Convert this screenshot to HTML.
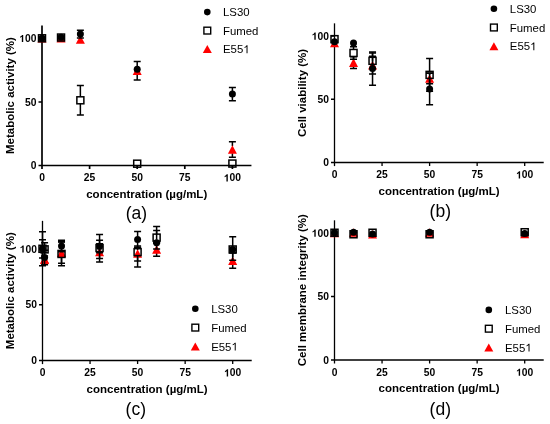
<!DOCTYPE html><html><head><meta charset="utf-8"><style>html,body{margin:0;padding:0;background:#fff;width:550px;height:424px;overflow:hidden}svg{display:block;will-change:transform}</style></head><body>
<svg width="550" height="424" viewBox="0 0 550 424">
<rect width="550" height="424" fill="#fff"/>
<path d="M42.00 25.57V169.10" stroke="#000" stroke-width="1.7" fill="none"/>
<path d="M38.50 165.60H251.44" stroke="#000" stroke-width="1.5" fill="none"/>
<path d="M38.50 101.95H42.00M38.50 38.30H42.00" stroke="#000" stroke-width="1.5" fill="none"/>
<path d="M89.60 165.60V169.10M137.20 165.60V169.10M184.80 165.60V169.10M232.40 165.60V169.10" stroke="#000" stroke-width="1.7" fill="none"/>
<g font-family='"Liberation Sans", sans-serif' font-weight="bold" font-size="10.3">
<text x="36.40" y="169.31" text-anchor="end" >0</text>
<text x="36.40" y="105.66" text-anchor="end" >50</text>
<text x="36.40" y="42.01" text-anchor="end" > 00</text>
<path transform="matrix(0.00503 0 0 -0.00503 19.21 42.01)" d="M795 0L520 0L520 1036Q369 895 164 827L164 1076Q272 1111 398 1209Q524 1307 571 1409L795 1409Z"/>
<text x="42.00" y="181.40" text-anchor="middle" >0</text>
<text x="89.60" y="181.40" text-anchor="middle" >25</text>
<text x="137.20" y="181.40" text-anchor="middle" >50</text>
<text x="184.80" y="181.40" text-anchor="middle" >75</text>
<text x="232.40" y="181.40" text-anchor="middle" > 00</text>
<path transform="matrix(0.00503 0 0 -0.00503 223.81 181.40)" d="M795 0L520 0L520 1036Q369 895 164 827L164 1076Q272 1111 398 1209Q524 1307 571 1409L795 1409Z"/>
</g>
<text x="146.72" y="197.50" text-anchor="middle" font-family='"Liberation Sans", sans-serif' font-weight="bold" font-size="11.5">concentration (µg/mL)</text>
<text transform="translate(14.30 95.58) rotate(-90)" text-anchor="middle" font-family='"Liberation Sans", sans-serif' font-weight="bold" font-size="11.5">Metabolic activity (%)</text>
<text x="136.50" y="218.80" text-anchor="middle" font-family='"Liberation Sans", sans-serif' font-size="17.5">(a)</text>
<circle cx="207.30" cy="12.10" r="3.3" fill="#000"/>
<rect x="203.90" y="27.20" width="6.8" height="6.8" fill="none" stroke="#000" stroke-width="1.4"/>
<path d="M207.30 45.10L211.80 53.10L202.80 53.10Z" fill="#ff0000"/>
<g font-family='"Liberation Sans", sans-serif' font-size="11.4">
<text x="223.00" y="16.20">LS30</text>
<text x="223.00" y="34.70">Fumed</text>
<text x="223.00" y="53.20" text-anchor="start" >E55 </text>
<path transform="matrix(0.00557 0 0 -0.00557 243.28 53.20)" d="M763 0L583 0L583 1147Q521 1088 421 1029Q321 970 223 934L223 1108Q363 1174 468 1268Q573 1362 617 1409L763 1409Z"/>
</g>
<path d="M42.00 34.00L46.50 42.60L37.50 42.60Z" fill="#ff0000"/>
<path d="M61.04 34.00L65.54 42.60L56.54 42.60Z" fill="#ff0000"/>
<path d="M80.37 35.27L84.87 43.87L75.87 43.87Z" fill="#ff0000"/>
<path d="M137.20 67.16V61.47M133.70 61.47H140.70M137.20 74.36V80.05M133.70 80.05H140.70" stroke="#000" stroke-width="1.5" fill="none"/>
<path d="M137.20 66.46L141.70 75.06L132.70 75.06Z" fill="#ff0000"/>
<path d="M232.40 145.96V141.79M228.90 141.79H235.90M232.40 153.16V157.33M228.90 157.33H235.90" stroke="#000" stroke-width="1.5" fill="none"/>
<path d="M232.40 145.26L236.90 153.86L227.90 153.86Z" fill="#ff0000"/>
<rect x="38.50" y="34.80" width="7.0" height="7.0" fill="none" stroke="#000" stroke-width="1.5"/>
<rect x="57.54" y="34.04" width="7.0" height="7.0" fill="none" stroke="#000" stroke-width="1.5"/>
<path d="M80.37 96.80V85.53M76.87 85.53H83.87M80.37 103.80V115.06M76.87 115.06H83.87" stroke="#000" stroke-width="1.5" fill="none"/>
<rect x="76.87" y="96.80" width="7.0" height="7.0" fill="none" stroke="#000" stroke-width="1.5"/>
<rect x="133.70" y="160.19" width="7.0" height="7.0" fill="none" stroke="#000" stroke-width="1.5"/>
<rect x="228.90" y="160.06" width="7.0" height="7.0" fill="none" stroke="#000" stroke-width="1.5"/>
<circle cx="42.00" cy="38.30" r="3.5" fill="#000"/>
<circle cx="61.04" cy="37.28" r="3.5" fill="#000"/>
<path d="M80.37 31.10V30.15M76.87 30.15H83.87M80.37 37.10V38.05M76.87 38.05H83.87" stroke="#000" stroke-width="1.5" fill="none"/>
<circle cx="80.37" cy="34.10" r="3.5" fill="#000"/>
<circle cx="137.20" cy="69.23" r="3.5" fill="#000"/>
<path d="M232.40 91.06V87.44M228.90 87.44H235.90M232.40 97.06V100.68M228.90 100.68H235.90" stroke="#000" stroke-width="1.5" fill="none"/>
<circle cx="232.40" cy="94.06" r="3.5" fill="#000"/>
<path d="M334.50 23.34V166.10" stroke="#000" stroke-width="1.3" fill="none"/>
<path d="M331.00 162.60H543.72" stroke="#000" stroke-width="1.5" fill="none"/>
<path d="M331.00 99.30H334.50M331.00 36.00H334.50" stroke="#000" stroke-width="1.5" fill="none"/>
<path d="M382.05 162.60V166.10M429.60 162.60V166.10M477.15 162.60V166.10M524.70 162.60V166.10" stroke="#000" stroke-width="1.3" fill="none"/>
<g font-family='"Liberation Sans", sans-serif' font-weight="bold" font-size="10.3">
<text x="328.90" y="166.31" text-anchor="end" >0</text>
<text x="328.90" y="103.01" text-anchor="end" >50</text>
<text x="328.90" y="39.71" text-anchor="end" > 00</text>
<path transform="matrix(0.00503 0 0 -0.00503 311.71 39.71)" d="M795 0L520 0L520 1036Q369 895 164 827L164 1076Q272 1111 398 1209Q524 1307 571 1409L795 1409Z"/>
<text x="334.50" y="178.40" text-anchor="middle" >0</text>
<text x="382.05" y="178.40" text-anchor="middle" >25</text>
<text x="429.60" y="178.40" text-anchor="middle" >50</text>
<text x="477.15" y="178.40" text-anchor="middle" >75</text>
<text x="524.70" y="178.40" text-anchor="middle" > 00</text>
<path transform="matrix(0.00503 0 0 -0.00503 516.11 178.40)" d="M795 0L520 0L520 1036Q369 895 164 827L164 1076Q272 1111 398 1209Q524 1307 571 1409L795 1409Z"/>
</g>
<text x="439.11" y="194.50" text-anchor="middle" font-family='"Liberation Sans", sans-serif' font-weight="bold" font-size="11.5">concentration (µg/mL)</text>
<text transform="translate(306.00 92.97) rotate(-90)" text-anchor="middle" font-family='"Liberation Sans", sans-serif' font-weight="bold" font-size="11.5">Cell viability (%)</text>
<text x="440.30" y="217.00" text-anchor="middle" font-family='"Liberation Sans", sans-serif' font-size="17.5">(b)</text>
<circle cx="493.90" cy="8.80" r="3.3" fill="#000"/>
<rect x="490.50" y="24.10" width="6.8" height="6.8" fill="none" stroke="#000" stroke-width="1.4"/>
<path d="M493.90 42.20L498.40 50.20L489.40 50.20Z" fill="#ff0000"/>
<g font-family='"Liberation Sans", sans-serif' font-size="11.4">
<text x="509.80" y="12.90">LS30</text>
<text x="509.80" y="31.60">Fumed</text>
<text x="509.80" y="50.30" text-anchor="start" >E55 </text>
<path transform="matrix(0.00557 0 0 -0.00557 530.08 50.30)" d="M763 0L583 0L583 1147Q521 1088 421 1029Q321 970 223 934L223 1108Q363 1174 468 1268Q573 1362 617 1409L763 1409Z"/>
</g>
<path d="M334.50 38.66L339.00 47.26L330.00 47.26Z" fill="#ff0000"/>
<path d="M353.52 58.99V56.64M350.02 56.64H357.02M353.52 66.19V68.54M350.02 68.54H357.02" stroke="#000" stroke-width="1.5" fill="none"/>
<path d="M353.52 58.29L358.02 66.89L349.02 66.89Z" fill="#ff0000"/>
<path d="M372.54 61.52V56.26M369.04 56.26H376.04M372.54 68.72V73.98M369.04 73.98H376.04" stroke="#000" stroke-width="1.5" fill="none"/>
<path d="M372.54 60.82L377.04 69.42L368.04 69.42Z" fill="#ff0000"/>
<path d="M429.60 74.94V73.22M426.10 73.22H433.10M429.60 82.14V83.85M426.10 83.85H433.10" stroke="#000" stroke-width="1.5" fill="none"/>
<path d="M429.60 74.24L434.10 82.84L425.10 82.84Z" fill="#ff0000"/>
<rect x="331.00" y="35.66" width="7.0" height="7.0" fill="none" stroke="#000" stroke-width="1.5"/>
<path d="M353.52 49.46V46.63M350.02 46.63H357.02M353.52 56.46V59.29M350.02 59.29H357.02" stroke="#000" stroke-width="1.5" fill="none"/>
<rect x="350.02" y="49.46" width="7.0" height="7.0" fill="none" stroke="#000" stroke-width="1.5"/>
<path d="M372.54 57.31V53.09M369.04 53.09H376.04M372.54 64.31V68.54M369.04 68.54H376.04" stroke="#000" stroke-width="1.5" fill="none"/>
<rect x="369.04" y="57.31" width="7.0" height="7.0" fill="none" stroke="#000" stroke-width="1.5"/>
<path d="M429.60 71.37V58.53M426.10 58.53H433.10M429.60 78.37V91.20M426.10 91.20H433.10" stroke="#000" stroke-width="1.5" fill="none"/>
<rect x="426.10" y="71.37" width="7.0" height="7.0" fill="none" stroke="#000" stroke-width="1.5"/>
<circle cx="334.50" cy="41.70" r="3.5" fill="#000"/>
<circle cx="353.52" cy="42.96" r="3.5" fill="#000"/>
<path d="M372.54 65.41V52.08M369.04 52.08H376.04M372.54 71.41V85.37M369.04 85.37H376.04" stroke="#000" stroke-width="1.5" fill="none"/>
<circle cx="372.54" cy="68.41" r="3.5" fill="#000"/>
<path d="M429.60 85.92V73.09M426.10 73.09H433.10M429.60 91.92V104.74M426.10 104.74H433.10" stroke="#000" stroke-width="1.5" fill="none"/>
<circle cx="429.60" cy="88.92" r="3.5" fill="#000"/>
<path d="M42.50 220.85V364.10" stroke="#000" stroke-width="1.3" fill="none"/>
<path d="M39.00 360.60H251.72" stroke="#000" stroke-width="1.5" fill="none"/>
<path d="M39.00 304.70H42.50M39.00 248.80H42.50" stroke="#000" stroke-width="1.5" fill="none"/>
<path d="M90.05 360.60V364.10M137.60 360.60V364.10M185.15 360.60V364.10M232.70 360.60V364.10" stroke="#000" stroke-width="1.3" fill="none"/>
<g font-family='"Liberation Sans", sans-serif' font-weight="bold" font-size="10.3">
<text x="36.90" y="364.31" text-anchor="end" >0</text>
<text x="36.90" y="308.41" text-anchor="end" >50</text>
<text x="36.90" y="252.51" text-anchor="end" > 00</text>
<path transform="matrix(0.00503 0 0 -0.00503 19.71 252.51)" d="M795 0L520 0L520 1036Q369 895 164 827L164 1076Q272 1111 398 1209Q524 1307 571 1409L795 1409Z"/>
<text x="42.50" y="376.40" text-anchor="middle" >0</text>
<text x="90.05" y="376.40" text-anchor="middle" >25</text>
<text x="137.60" y="376.40" text-anchor="middle" >50</text>
<text x="185.15" y="376.40" text-anchor="middle" >75</text>
<text x="232.70" y="376.40" text-anchor="middle" > 00</text>
<path transform="matrix(0.00503 0 0 -0.00503 224.11 376.40)" d="M795 0L520 0L520 1036Q369 895 164 827L164 1076Q272 1111 398 1209Q524 1307 571 1409L795 1409Z"/>
</g>
<text x="147.11" y="392.50" text-anchor="middle" font-family='"Liberation Sans", sans-serif' font-weight="bold" font-size="11.5">concentration (µg/mL)</text>
<text transform="translate(14.30 290.73) rotate(-90)" text-anchor="middle" font-family='"Liberation Sans", sans-serif' font-weight="bold" font-size="11.5">Metabolic activity (%)</text>
<text x="135.80" y="415.00" text-anchor="middle" font-family='"Liberation Sans", sans-serif' font-size="17.5">(c)</text>
<circle cx="195.30" cy="308.80" r="3.3" fill="#000"/>
<rect x="191.90" y="324.20" width="6.8" height="6.8" fill="none" stroke="#000" stroke-width="1.4"/>
<path d="M195.30 342.40L199.80 350.40L190.80 350.40Z" fill="#ff0000"/>
<g font-family='"Liberation Sans", sans-serif' font-size="11.4">
<text x="211.20" y="312.90">LS30</text>
<text x="211.20" y="331.70">Fumed</text>
<text x="211.20" y="350.50" text-anchor="start" >E55 </text>
<path transform="matrix(0.00557 0 0 -0.00557 231.48 350.50)" d="M763 0L583 0L583 1147Q521 1088 421 1029Q321 970 223 934L223 1108Q363 1174 468 1268Q573 1362 617 1409L763 1409Z"/>
</g>
<path d="M44.59 255.23L49.09 263.83L40.09 263.83Z" fill="#ff0000"/>
<path d="M44.59 255.23L49.09 263.83L40.09 263.83Z" fill="#ff0000"/>
<path d="M61.52 249.11V242.09M58.02 242.09H65.02M61.52 256.31V263.33M58.02 263.33H65.02" stroke="#000" stroke-width="1.5" fill="none"/>
<path d="M61.52 248.41L66.02 257.01L57.02 257.01Z" fill="#ff0000"/>
<path d="M99.56 248.44V243.66M96.06 243.66H103.06M99.56 255.64V262.10M96.06 262.10H103.06" stroke="#000" stroke-width="1.5" fill="none"/>
<path d="M99.56 247.74L104.06 256.34L95.06 256.34Z" fill="#ff0000"/>
<path d="M137.60 249.90V246.00M134.10 246.00H141.10M137.60 257.10V260.99M134.10 260.99H141.10" stroke="#000" stroke-width="1.5" fill="none"/>
<path d="M137.60 249.20L142.10 257.80L133.10 257.80Z" fill="#ff0000"/>
<path d="M156.62 245.76V242.43M153.12 242.43H160.12M156.62 252.96V256.29M153.12 256.29H160.12" stroke="#000" stroke-width="1.5" fill="none"/>
<path d="M156.62 245.06L161.12 253.66L152.12 253.66Z" fill="#ff0000"/>
<path d="M232.70 257.05V253.05M229.20 253.05H236.20M232.70 264.25V268.25M229.20 268.25H236.20" stroke="#000" stroke-width="1.5" fill="none"/>
<path d="M232.70 256.35L237.20 264.95L228.20 264.95Z" fill="#ff0000"/>
<path d="M42.50 245.30V231.81M39.00 231.81H46.00M42.50 252.30V265.79M39.00 265.79H46.00" stroke="#000" stroke-width="1.5" fill="none"/>
<rect x="39.00" y="245.30" width="7.0" height="7.0" fill="none" stroke="#000" stroke-width="1.5"/>
<path d="M44.59 245.86V242.65M41.09 242.65H48.09M44.59 252.86V256.07M41.09 256.07H48.09" stroke="#000" stroke-width="1.5" fill="none"/>
<rect x="41.09" y="245.86" width="7.0" height="7.0" fill="none" stroke="#000" stroke-width="1.5"/>
<path d="M61.52 250.44V241.76M58.02 241.76H65.02M61.52 257.44V265.68M58.02 265.68H65.02" stroke="#000" stroke-width="1.5" fill="none"/>
<rect x="58.02" y="250.44" width="7.0" height="7.0" fill="none" stroke="#000" stroke-width="1.5"/>
<path d="M99.56 244.52V234.49M96.06 234.49H103.06M99.56 251.52V258.41M96.06 258.41H103.06" stroke="#000" stroke-width="1.5" fill="none"/>
<rect x="96.06" y="244.52" width="7.0" height="7.0" fill="none" stroke="#000" stroke-width="1.5"/>
<path d="M137.60 248.65V247.68M134.10 247.68H141.10M137.60 255.65V266.91M134.10 266.91H141.10" stroke="#000" stroke-width="1.5" fill="none"/>
<rect x="134.10" y="248.65" width="7.0" height="7.0" fill="none" stroke="#000" stroke-width="1.5"/>
<path d="M156.62 234.12V226.44M153.12 226.44H160.12M156.62 241.12V243.21M153.12 243.21H160.12" stroke="#000" stroke-width="1.5" fill="none"/>
<rect x="153.12" y="234.12" width="7.0" height="7.0" fill="none" stroke="#000" stroke-width="1.5"/>
<path d="M232.70 245.97V236.84M229.20 236.84H236.20M232.70 252.97V260.20M229.20 260.20H236.20" stroke="#000" stroke-width="1.5" fill="none"/>
<rect x="229.20" y="245.97" width="7.0" height="7.0" fill="none" stroke="#000" stroke-width="1.5"/>
<path d="M42.50 245.80V239.63M39.00 239.63H46.00M42.50 251.80V257.97M39.00 257.97H46.00" stroke="#000" stroke-width="1.5" fill="none"/>
<circle cx="42.50" cy="248.80" r="3.5" fill="#000"/>
<path d="M44.59 254.52V250.25M41.09 250.25H48.09M44.59 260.52V264.79M41.09 264.79H48.09" stroke="#000" stroke-width="1.5" fill="none"/>
<circle cx="44.59" cy="257.52" r="3.5" fill="#000"/>
<path d="M61.52 243.00V240.30M58.02 240.30H65.02M61.52 249.00V251.71M58.02 251.71H65.02" stroke="#000" stroke-width="1.5" fill="none"/>
<circle cx="61.52" cy="246.00" r="3.5" fill="#000"/>
<path d="M99.56 243.56V240.30M96.06 240.30H103.06M99.56 249.56V252.82M96.06 252.82H103.06" stroke="#000" stroke-width="1.5" fill="none"/>
<circle cx="99.56" cy="246.56" r="3.5" fill="#000"/>
<path d="M137.60 236.41V231.58M134.10 231.58H141.10M137.60 242.41V247.23M134.10 247.23H141.10" stroke="#000" stroke-width="1.5" fill="none"/>
<circle cx="137.60" cy="239.41" r="3.5" fill="#000"/>
<path d="M156.62 239.76V230.58M153.12 230.58H160.12M156.62 245.76V248.91M153.12 248.91H160.12" stroke="#000" stroke-width="1.5" fill="none"/>
<circle cx="156.62" cy="242.76" r="3.5" fill="#000"/>
<circle cx="232.70" cy="249.47" r="3.5" fill="#000"/>
<path d="M334.50 220.30V363.50" stroke="#000" stroke-width="1.3" fill="none"/>
<path d="M331.00 360.00H543.72" stroke="#000" stroke-width="1.5" fill="none"/>
<path d="M331.00 296.50H334.50M331.00 233.00H334.50" stroke="#000" stroke-width="1.5" fill="none"/>
<path d="M382.05 360.00V363.50M429.60 360.00V363.50M477.15 360.00V363.50M524.70 360.00V363.50" stroke="#000" stroke-width="1.3" fill="none"/>
<g font-family='"Liberation Sans", sans-serif' font-weight="bold" font-size="10.3">
<text x="328.90" y="363.71" text-anchor="end" >0</text>
<text x="328.90" y="300.21" text-anchor="end" >50</text>
<text x="328.90" y="236.71" text-anchor="end" > 00</text>
<path transform="matrix(0.00503 0 0 -0.00503 311.71 236.71)" d="M795 0L520 0L520 1036Q369 895 164 827L164 1076Q272 1111 398 1209Q524 1307 571 1409L795 1409Z"/>
<text x="334.50" y="375.80" text-anchor="middle" >0</text>
<text x="382.05" y="375.80" text-anchor="middle" >25</text>
<text x="429.60" y="375.80" text-anchor="middle" >50</text>
<text x="477.15" y="375.80" text-anchor="middle" >75</text>
<text x="524.70" y="375.80" text-anchor="middle" > 00</text>
<path transform="matrix(0.00503 0 0 -0.00503 516.11 375.80)" d="M795 0L520 0L520 1036Q369 895 164 827L164 1076Q272 1111 398 1209Q524 1307 571 1409L795 1409Z"/>
</g>
<text x="439.11" y="391.90" text-anchor="middle" font-family='"Liberation Sans", sans-serif' font-weight="bold" font-size="11.5">concentration (µg/mL)</text>
<text transform="translate(306.00 290.15) rotate(-90)" text-anchor="middle" font-family='"Liberation Sans", sans-serif' font-weight="bold" font-size="11.5">Cell membrane integrity (%)</text>
<text x="440.30" y="415.00" text-anchor="middle" font-family='"Liberation Sans", sans-serif' font-size="17.5">(d)</text>
<circle cx="488.80" cy="309.90" r="3.3" fill="#000"/>
<rect x="485.40" y="325.30" width="6.8" height="6.8" fill="none" stroke="#000" stroke-width="1.4"/>
<path d="M488.80 343.50L493.30 351.50L484.30 351.50Z" fill="#ff0000"/>
<g font-family='"Liberation Sans", sans-serif' font-size="11.4">
<text x="505.00" y="314.00">LS30</text>
<text x="505.00" y="332.80">Fumed</text>
<text x="505.00" y="351.60" text-anchor="start" >E55 </text>
<path transform="matrix(0.00557 0 0 -0.00557 525.28 351.60)" d="M763 0L583 0L583 1147Q521 1088 421 1029Q321 970 223 934L223 1108Q363 1174 468 1268Q573 1362 617 1409L763 1409Z"/>
</g>
<path d="M334.50 228.70L339.00 237.30L330.00 237.30Z" fill="#ff0000"/>
<path d="M353.52 228.19L358.02 236.79L349.02 236.79Z" fill="#ff0000"/>
<path d="M372.54 229.97L377.04 238.57L368.04 238.57Z" fill="#ff0000"/>
<path d="M429.60 228.19L434.10 236.79L425.10 236.79Z" fill="#ff0000"/>
<path d="M524.70 229.59L529.20 238.19L520.20 238.19Z" fill="#ff0000"/>
<rect x="331.00" y="229.25" width="7.0" height="7.0" fill="none" stroke="#000" stroke-width="1.5"/>
<rect x="350.02" y="230.77" width="7.0" height="7.0" fill="none" stroke="#000" stroke-width="1.5"/>
<rect x="369.04" y="229.25" width="7.0" height="7.0" fill="none" stroke="#000" stroke-width="1.5"/>
<rect x="426.10" y="230.77" width="7.0" height="7.0" fill="none" stroke="#000" stroke-width="1.5"/>
<rect x="521.20" y="228.74" width="7.0" height="7.0" fill="none" stroke="#000" stroke-width="1.5"/>
<circle cx="334.50" cy="232.75" r="3.5" fill="#000"/>
<circle cx="353.52" cy="232.37" r="3.5" fill="#000"/>
<circle cx="372.54" cy="234.02" r="3.5" fill="#000"/>
<circle cx="429.60" cy="232.37" r="3.5" fill="#000"/>
<circle cx="524.70" cy="233.51" r="3.5" fill="#000"/>
</svg></body></html>
